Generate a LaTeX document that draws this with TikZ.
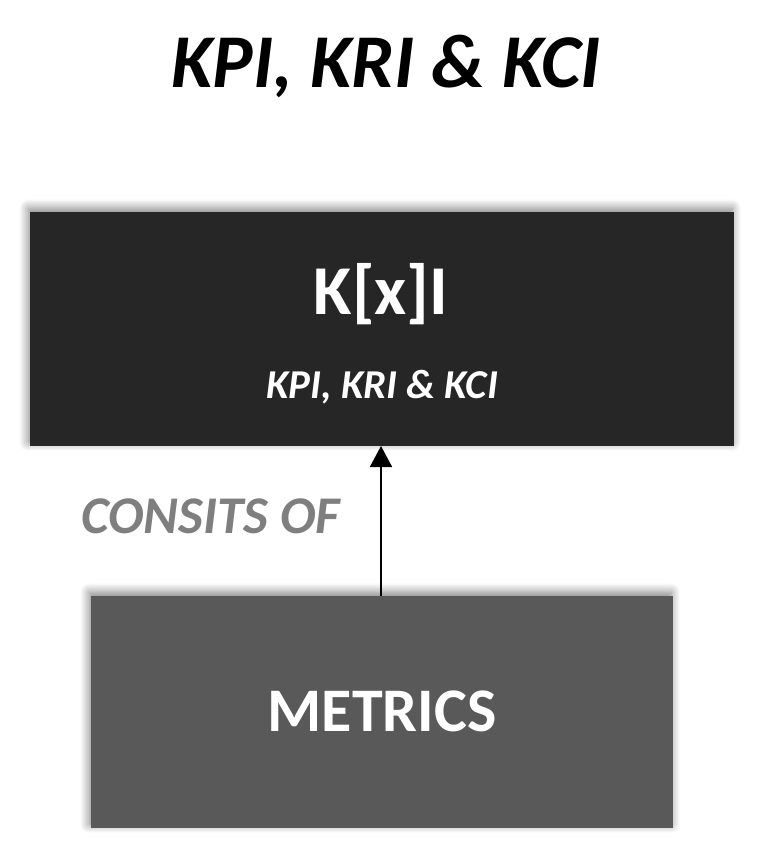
\documentclass[tikz,border=0pt]{standalone}
\usepackage{fontspec}
\setmainfont{Carlito}
\usetikzlibrary{arrows.meta,shadows.blur}
\definecolor{boxdark}{HTML}{262626}
\definecolor{boxmid}{HTML}{595959}
\definecolor{labelgray}{HTML}{7F7F7F}
\tikzset{
  px/.style={x=1pt,y=-1pt},
  panel/.style={draw=none, inner sep=0pt, minimum width=#1,
    blur shadow={shadow xshift=-2pt, shadow yshift=4pt, shadow blur steps=12, shadow blur radius=9pt, shadow opacity=50}},
  conn/.style={draw=black, line width=1.8pt, -{Triangle[length=21pt,width=22pt]}},
}
\begin{document}
\begin{tikzpicture}[px]
\useasboundingbox (0,0) rectangle (768,855);
% title
\node[font=\fontsize{76}{84}\selectfont\bfseries\itshape] (title) at (386,66) {KPI, KRI \& KCI};
% top box
\node[panel=704pt, fill=boxdark, minimum height=234pt, anchor=north west] (kxi) at (30,212) {};
\node[font=\fontsize{70}{76}\selectfont\bfseries, text=white] (kxilabel) at (381,294) {K[x]I};
\node[font=\fontsize{41}{46}\selectfont\bfseries\itshape, text=white] (kxisub) at (382,387) {KPI, KRI \& KCI};
% bottom box
\node[panel=582pt, fill=boxmid, minimum height=232pt, anchor=north west] (metrics) at (91,596) {};
\node[font=\fontsize{62}{68}\selectfont\bfseries, text=white] (metricslabel) at (382,711) {METRICS};
% connector
\coordinate (mtop) at (381,596);
\coordinate (ktop) at (381,446);
\draw[conn] (mtop) -- (ktop);
% label
\node[font=\fontsize{53}{60}\selectfont\bfseries\itshape, text=labelgray, anchor=west] (consits) at (78,516) {CONSITS OF};
\end{tikzpicture}
\end{document}
